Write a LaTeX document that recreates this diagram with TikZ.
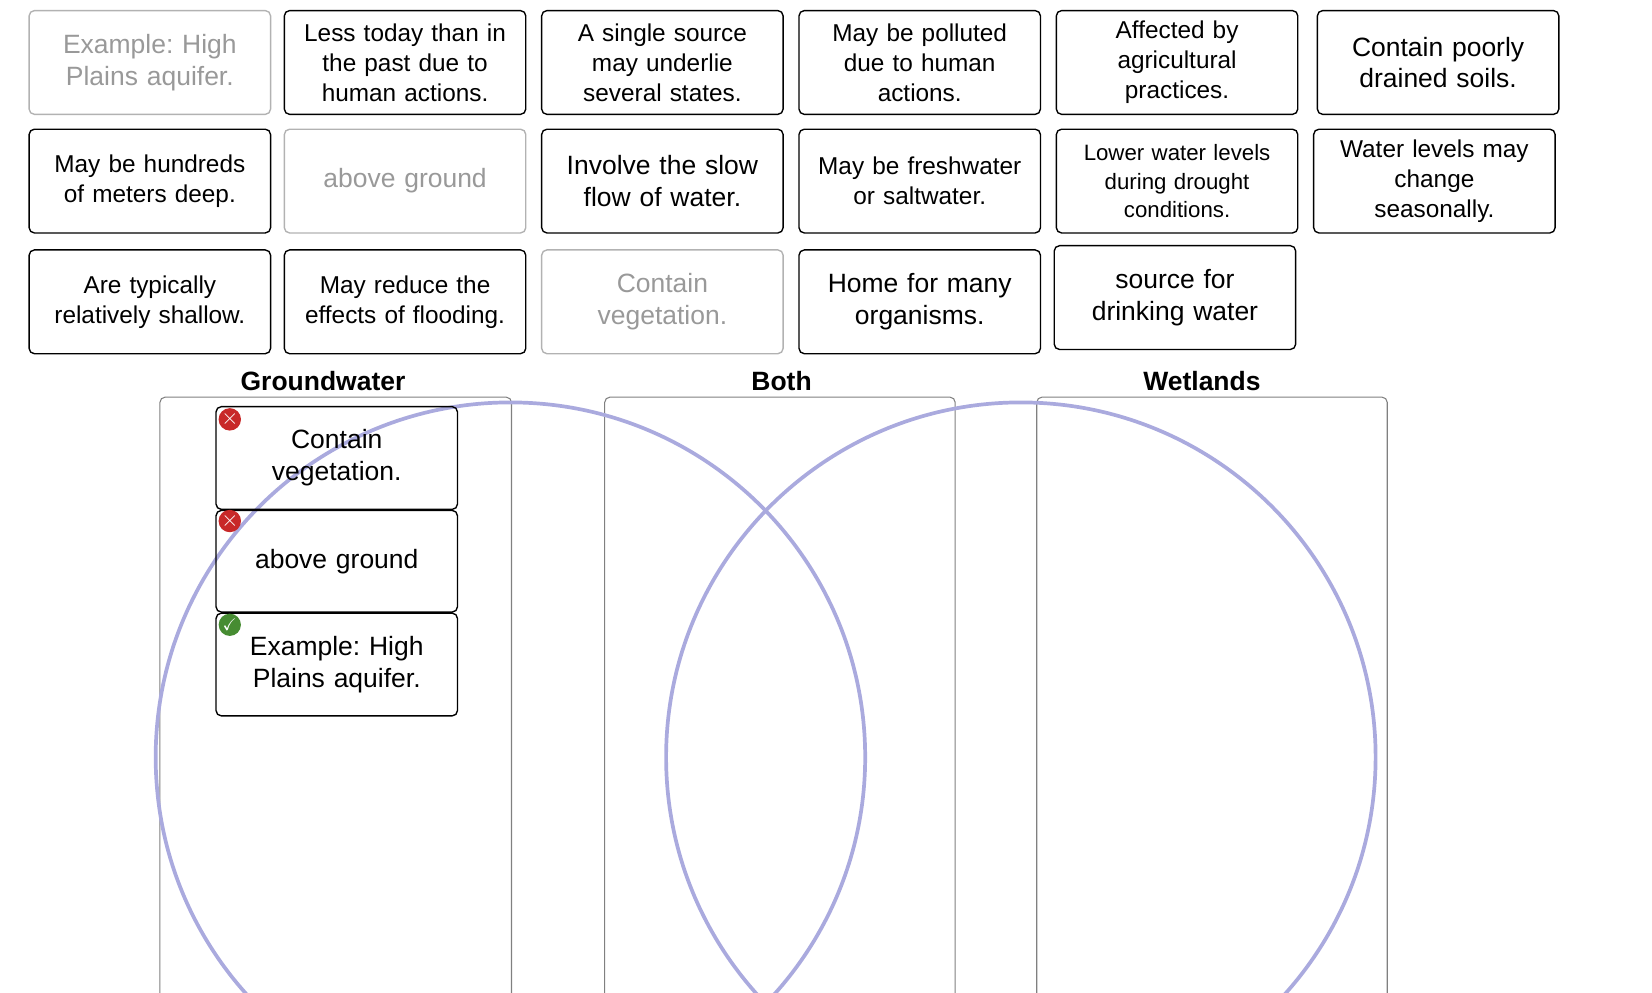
\documentclass[tikz,border=0pt]{standalone}
\usepackage{amssymb}
\usepackage{fontspec}
\setmainfont{Liberation Sans}
\frenchspacing
\begin{document}
\begin{tikzpicture}[x=1pt,y=-1pt,
 card/.style={draw=black,line width=1.3pt,rounded corners=5pt,minimum width=227pt,minimum height=98pt,align=center,font=\fontsize{23}{28.5}\selectfont,inner sep=2pt,text width=224pt},
 big/.style={font=\fontsize{25}{30}\selectfont},
 gcard/.style={card,draw=gray!60,text=gray!80},
 hdr/.style={font=\bfseries\fontsize{25}{30}\selectfont},
 zone/.style={draw=gray,line width=1pt,rounded corners=5pt},
 venn/.style={draw={rgb,255:red,170;green,170;blue,222},line width=3.5pt},
 bad/.style={circle,fill={rgb,255:red,200;green,40;blue,40},minimum size=21pt,inner sep=0pt,text=white,font=\bfseries\fontsize{20}{20}\selectfont},
 good/.style={circle,fill={rgb,255:red,70;green,140;blue,50},minimum size=21pt,inner sep=0pt,text=white,font=\bfseries\fontsize{16}{16}\selectfont}]
\useasboundingbox (0,0) rectangle (1560,937);
\begin{scope}
\clip (0,0) rectangle (1560,937);
\node[gcard,big] (a1) at (141.5,59) {Example: High\\Plains aquifer.};
\node[card] (a2) at (382.5,59) {Less today than in\\the past due to\\human actions.};
\node[card] (a3) at (625.5,59) {A single source\\may underlie\\several states.};
\node[card] (a4) at (868.5,59) {May be polluted\\due to human\\actions.};
\node[card] (a5) at (1111.5,59) {Affected by\\agricultural\\practices.};
\node[card,big] (a6) at (1358,59) {Contain poorly\\drained soils.};
\node[card] (b1) at (141.5,171) {May be hundreds\\of meters deep.};
\node[gcard,big] (b2) at (382.5,171) {above ground};
\node[card,big] (b3) at (625.5,171) {Involve the slow\\flow of water.};
\node[card] (b4) at (868.5,171) {May be freshwater\\or saltwater.};
\node[card,font=\fontsize{21}{27}\selectfont] (b5) at (1111.5,171) {Lower water levels\\during drought\\conditions.};
\node[card] (b6) at (1354.5,171) {Water levels may\\change\\seasonally.};
\node[card] (c1) at (141.5,285) {Are typically\\relatively shallow.};
\node[card] (c2) at (382.5,285) {May reduce the\\effects of flooding.};
\node[gcard,big] (c3) at (625.5,285) {Contain\\vegetation.};
\node[card,big] (c4) at (868.5,285) {Home for many\\organisms.};
\node[card,big] (c5) at (1109.5,281) {source for\\drinking water};
\node[hdr] (h1) at (305,360) {Groundwater};
\node[hdr] (h2) at (738,360) {Both};
\node[hdr] (h3) at (1135,360) {Wetlands};
\draw[zone] (151,960) -- (151,375) -- (483,375) -- (483,960);
\draw[zone] (571,960) -- (571,375) -- (902,375) -- (902,960);
\draw[zone] (979,960) -- (979,375) -- (1310,375) -- (1310,960);
\draw[venn] (482,715) circle (335);
\draw[venn] (964,715) circle (335);
\node[card,big,fill=none,minimum width=228pt,minimum height=97pt] (p1) at (318,432.5) {Contain\\vegetation.};
\node[card,big,fill=none,minimum width=228pt,minimum height=96pt] (p2) at (318,530) {above ground};
\node[card,big,fill=none,minimum width=228pt,minimum height=97pt] (p3) at (318,627.5) {Example: High\\Plains aquifer.};
\node[bad] (i1) at (217,396) {$\times$};
\node[bad] (i2) at (217,492) {$\times$};
\node[good] (i3) at (217,590) {$\checkmark$};
\end{scope}
\end{tikzpicture}
\end{document}
